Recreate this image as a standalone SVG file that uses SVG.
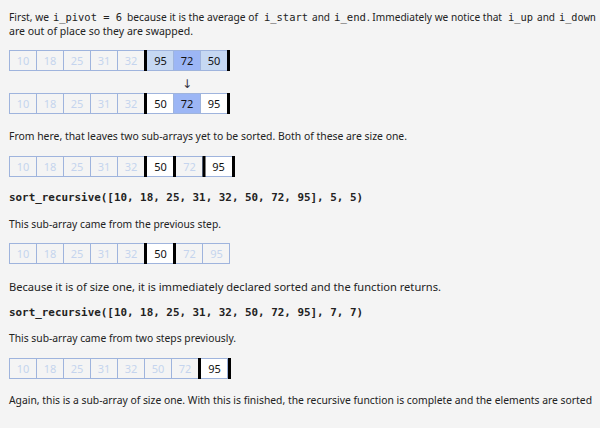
<svg xmlns="http://www.w3.org/2000/svg" width="600" height="428" viewBox="0 0 600 428">
<style>
.t{font-family:"Noto Sans","Open Sans","Liberation Sans",sans-serif;font-size:10.5px;fill:#222}
.m{font-family:"DejaVu Sans Mono","Liberation Mono",monospace;font-size:10.5px;fill:#222}
.b{font-family:"DejaVu Sans Mono","Liberation Mono",monospace;font-size:10.8px;font-weight:bold;fill:#222}
.c{stroke:#9fb4dd;stroke-width:1;fill:none}
.w{stroke:#9fb4dd;stroke-width:1;fill:#fff}
.lb{stroke:#9fb4dd;stroke-width:1;fill:#c6d8f2}
.db{stroke:#9fb4dd;stroke-width:1;fill:#9cb6f5}
.n{font-family:"Noto Sans","Open Sans","Liberation Sans",sans-serif;font-size:11px;text-anchor:middle;fill:#c5d4ee}
.k{font-family:"Noto Sans","Open Sans","Liberation Sans",sans-serif;font-size:11px;text-anchor:middle;fill:#111}
.bar{fill:#000}
</style>
<rect width="600" height="428" fill="#f4f4f4"/>

<g id="intro">
<text class="t" x="9" y="21" textLength="40" lengthAdjust="spacingAndGlyphs">First, we</text>
<text class="m" x="53" y="21" textLength="69" lengthAdjust="spacingAndGlyphs">i_pivot = 6</text>
<text class="t" x="127" y="21" textLength="131" lengthAdjust="spacingAndGlyphs">because it is the average of</text>
<text class="m" x="264" y="21" textLength="44" lengthAdjust="spacingAndGlyphs">i_start</text>
<text class="t" x="312" y="21" textLength="18" lengthAdjust="spacingAndGlyphs">and</text>
<text class="m" x="334" y="21" textLength="32" lengthAdjust="spacingAndGlyphs">i_end</text>
<text class="t" x="367" y="21" textLength="135" lengthAdjust="spacingAndGlyphs">. Immediately we notice that</text>
<text class="m" x="508" y="21" textLength="25" lengthAdjust="spacingAndGlyphs">i_up</text>
<text class="t" x="537" y="21" textLength="18" lengthAdjust="spacingAndGlyphs">and</text>
<text class="m" x="559" y="21" textLength="37" lengthAdjust="spacingAndGlyphs">i_down</text>
<text class="t" x="9" y="35" textLength="184" lengthAdjust="spacingAndGlyphs">are out of place so they are swapped.</text>
</g>

<g id="array1">
<rect class="c" x="9.5" y="50.5" width="27" height="20"/><text class="n" x="23" y="65">10</text>
<rect class="c" x="36.5" y="50.5" width="27" height="20"/><text class="n" x="50" y="65">18</text>
<rect class="c" x="63.5" y="50.5" width="27" height="20"/><text class="n" x="77" y="65">25</text>
<rect class="c" x="90.5" y="50.5" width="27" height="20"/><text class="n" x="104" y="65">31</text>
<rect class="c" x="117.5" y="50.5" width="27" height="20"/><text class="n" x="131" y="65">32</text>
<rect class="lb" x="146.5" y="50.5" width="27" height="20"/><text class="k" x="160.5" y="65">95</text>
<rect class="db" x="173.5" y="50.5" width="27" height="20"/><text class="k" x="187" y="65">72</text>
<rect class="lb" x="200.5" y="50.5" width="27" height="20"/><text class="k" x="214" y="65">50</text>
<rect class="bar" x="144" y="50" width="3" height="21"/>
<rect class="bar" x="227" y="50" width="3" height="21"/>
</g>

<g id="swap-arrow">
<text x="187" y="88" font-family="DejaVu Sans, sans-serif" font-size="12" text-anchor="middle" fill="#334">↓</text>
</g>

<g id="array2">
<rect class="c" x="9.5" y="93.5" width="27" height="20"/><text class="n" x="23" y="108">10</text>
<rect class="c" x="36.5" y="93.5" width="27" height="20"/><text class="n" x="50" y="108">18</text>
<rect class="c" x="63.5" y="93.5" width="27" height="20"/><text class="n" x="77" y="108">25</text>
<rect class="c" x="90.5" y="93.5" width="27" height="20"/><text class="n" x="104" y="108">31</text>
<rect class="c" x="117.5" y="93.5" width="27" height="20"/><text class="n" x="131" y="108">32</text>
<rect class="w" x="146.5" y="93.5" width="27" height="20"/><text class="k" x="160.5" y="108">50</text>
<rect class="db" x="173.5" y="93.5" width="27" height="20"/><text class="k" x="187" y="108">72</text>
<rect class="w" x="200.5" y="93.5" width="27" height="20"/><text class="k" x="214" y="108">95</text>
<rect class="bar" x="144" y="93" width="3" height="21"/>
<rect class="bar" x="227" y="93" width="3" height="21"/>
</g>

<text class="t" x="9" y="139.5" textLength="398" lengthAdjust="spacingAndGlyphs">From here, that leaves two sub-arrays yet to be sorted. Both of these are size one.</text>

<g id="array3">
<rect class="c" x="9.5" y="156.5" width="27" height="20"/><text class="n" x="23" y="171">10</text>
<rect class="c" x="36.5" y="156.5" width="27" height="20"/><text class="n" x="50" y="171">18</text>
<rect class="c" x="63.5" y="156.5" width="27" height="20"/><text class="n" x="77" y="171">25</text>
<rect class="c" x="90.5" y="156.5" width="27" height="20"/><text class="n" x="104" y="171">31</text>
<rect class="c" x="117.5" y="156.5" width="27" height="20"/><text class="n" x="131" y="171">32</text>
<rect class="w" x="146.5" y="156.5" width="27" height="20"/><text class="k" x="160.5" y="171">50</text>
<rect class="c" x="175.5" y="156.5" width="27" height="20"/><text class="n" x="189.5" y="171">72</text>
<rect class="w" x="204.5" y="156.5" width="28" height="20"/><text class="k" x="218.5" y="171">95</text>
<rect class="bar" x="144" y="156" width="3" height="21"/>
<rect class="bar" x="173" y="156" width="3" height="21"/>
<rect class="bar" x="202.5" y="156" width="3" height="21"/>
<rect class="bar" x="232" y="156" width="3" height="21"/>
</g>

<text class="b" x="9" y="201" textLength="354" lengthAdjust="spacingAndGlyphs">sort_recursive([10, 18, 25, 31, 32, 50, 72, 95], 5, 5)</text>
<text class="t" x="9" y="228" textLength="212" lengthAdjust="spacingAndGlyphs">This sub-array came from the previous step.</text>

<g id="array4">
<rect class="c" x="9.5" y="243.5" width="27" height="20"/><text class="n" x="23" y="258">10</text>
<rect class="c" x="36.5" y="243.5" width="27" height="20"/><text class="n" x="50" y="258">18</text>
<rect class="c" x="63.5" y="243.5" width="27" height="20"/><text class="n" x="77" y="258">25</text>
<rect class="c" x="90.5" y="243.5" width="27" height="20"/><text class="n" x="104" y="258">31</text>
<rect class="c" x="117.5" y="243.5" width="27" height="20"/><text class="n" x="131" y="258">32</text>
<rect class="w" x="146.5" y="243.5" width="27" height="20"/><text class="k" x="160.5" y="258">50</text>
<rect class="c" x="175.5" y="243.5" width="27" height="20"/><text class="n" x="189.5" y="258">72</text>
<rect class="c" x="202.5" y="243.5" width="27" height="20"/><text class="n" x="216.5" y="258">95</text>
<rect class="bar" x="144" y="243" width="3" height="21"/>
<rect class="bar" x="173" y="243" width="3" height="21"/>
</g>

<text class="t" x="9" y="291" textLength="432" lengthAdjust="spacingAndGlyphs">Because it is of size one, it is immediately declared sorted and the function returns.</text>
<text class="b" x="9" y="316" textLength="354" lengthAdjust="spacingAndGlyphs">sort_recursive([10, 18, 25, 31, 32, 50, 72, 95], 7, 7)</text>
<text class="t" x="9" y="342" textLength="227" lengthAdjust="spacingAndGlyphs">This sub-array came from two steps previously.</text>

<g id="array5">
<rect class="c" x="9.5" y="358.5" width="27" height="20"/><text class="n" x="23" y="373">10</text>
<rect class="c" x="36.5" y="358.5" width="27" height="20"/><text class="n" x="50" y="373">18</text>
<rect class="c" x="63.5" y="358.5" width="27" height="20"/><text class="n" x="77" y="373">25</text>
<rect class="c" x="90.5" y="358.5" width="27" height="20"/><text class="n" x="104" y="373">31</text>
<rect class="c" x="117.5" y="358.5" width="27" height="20"/><text class="n" x="131" y="373">32</text>
<rect class="c" x="144.5" y="358.5" width="27" height="20"/><text class="n" x="158" y="373">50</text>
<rect class="c" x="171.5" y="358.5" width="27" height="20"/><text class="n" x="185" y="373">72</text>
<rect class="w" x="200.5" y="358.5" width="27" height="20"/><text class="k" x="214.5" y="373">95</text>
<rect class="bar" x="198" y="358" width="3" height="21"/>
<rect class="bar" x="228" y="358" width="3" height="21"/>
</g>

<text class="t" x="9" y="404" textLength="583" lengthAdjust="spacingAndGlyphs">Again, this is a sub-array of size one. With this is finished, the recursive function is complete and the elements are sorted</text>
</svg>
